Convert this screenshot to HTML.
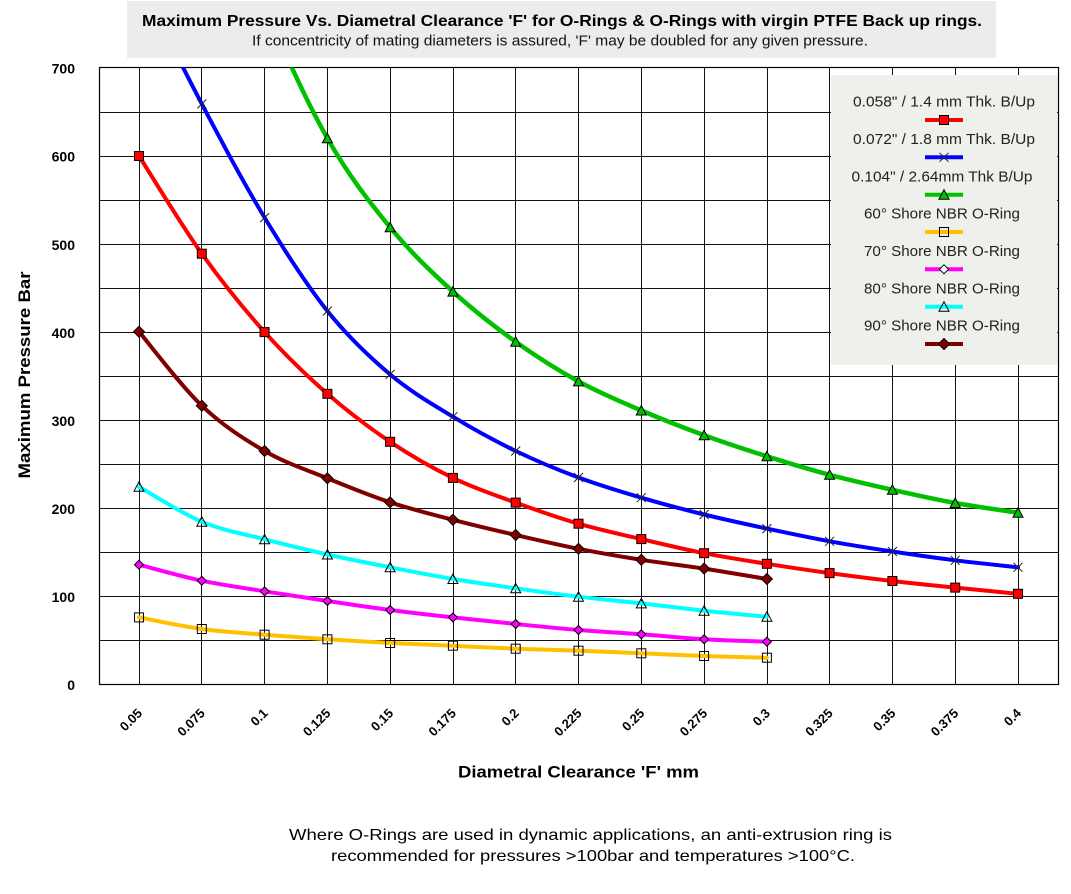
<!DOCTYPE html>
<html>
<head>
<meta charset="utf-8">
<style>
  html,body{margin:0;padding:0;background:#fff;}
  svg{display:block;}
  text{font-family:"Liberation Sans",Arial,sans-serif;}
</style>
</head>
<body>
<svg id="chart" width="1071" height="894" viewBox="0 0 1071 894" xmlns="http://www.w3.org/2000/svg">
  <defs>
    <clipPath id="plotClip"><rect x="99" y="67.5" width="959.5" height="617.5"/></clipPath>
    <marker id="mRed" markerUnits="userSpaceOnUse" markerWidth="14" markerHeight="14" refX="7" refY="7" viewBox="0 0 14 14" overflow="visible">
      <rect x="2.5" y="2.5" width="9" height="9" fill="#ff0000" stroke="#000" stroke-width="1"/>
    </marker>
    <marker id="mBlue" markerUnits="userSpaceOnUse" markerWidth="14" markerHeight="14" refX="7" refY="7" viewBox="0 0 14 14" overflow="visible">
      <path d="M2.5,2.5 L11.5,11.5 M2.5,11.5 L11.5,2.5" stroke="#222" stroke-width="1" fill="none"/>
    </marker>
    <marker id="mGreen" markerUnits="userSpaceOnUse" markerWidth="14" markerHeight="14" refX="7" refY="7" viewBox="0 0 14 14" overflow="visible">
      <polygon points="7,2 12,11.5 2,11.5" fill="#00c000" stroke="#000" stroke-width="1"/>
    </marker>
    <marker id="mOrange" markerUnits="userSpaceOnUse" markerWidth="14" markerHeight="14" refX="7" refY="7" viewBox="0 0 14 14" overflow="visible">
      <rect x="2.5" y="2.5" width="9" height="9" fill="none" stroke="#000" stroke-width="1"/>
    </marker>
    <marker id="mMag" markerUnits="userSpaceOnUse" markerWidth="14" markerHeight="14" refX="7" refY="7" viewBox="0 0 14 14" overflow="visible">
      <polygon points="7,2.5 11.5,7 7,11.5 2.5,7" fill="#ff00ff" stroke="#000" stroke-width="1"/>
    </marker>
    <marker id="mMagL" markerUnits="userSpaceOnUse" markerWidth="14" markerHeight="14" refX="7" refY="7" viewBox="0 0 14 14" overflow="visible">
      <polygon points="7,2.5 11.5,7 7,11.5 2.5,7" fill="#fff" stroke="#000" stroke-width="1"/>
    </marker>
    <marker id="mCyan" markerUnits="userSpaceOnUse" markerWidth="14" markerHeight="14" refX="7" refY="7" viewBox="0 0 14 14" overflow="visible">
      <polygon points="7,2 12,11.5 2,11.5" fill="none" stroke="#000" stroke-width="1"/>
    </marker>
    <marker id="mDark" markerUnits="userSpaceOnUse" markerWidth="14" markerHeight="14" refX="7" refY="7" viewBox="0 0 14 14" overflow="visible">
      <polygon points="7,1.5 12.5,7 7,12.5 1.5,7" fill="#800000" stroke="#000" stroke-width="1"/>
    </marker>
  </defs>

  <!-- Title box -->
  <rect x="127" y="1" width="869" height="57" fill="#ecedeb"/>
  <text x="562" y="26" text-anchor="middle" font-size="16" font-weight="bold" fill="#000" textLength="840" lengthAdjust="spacingAndGlyphs">Maximum Pressure Vs. Diametral Clearance 'F' for O-Rings &amp; O-Rings with virgin PTFE Back up rings.</text>
  <text x="560" y="45.5" text-anchor="middle" font-size="14.5" fill="#111" textLength="616" lengthAdjust="spacingAndGlyphs">If concentricity of mating diameters is assured, 'F' may be doubled for any given pressure.</text>

  <!-- Gridlines -->
  <g stroke="#111" stroke-width="1" fill="none">
    <path d="M99,640.5H1058 M99,596.5H1058 M99,552.5H1058 M99,508.5H1058 M99,464.5H1058 M99,420.5H1058 M99,376.5H1058 M99,332.5H1058 M99,288.5H1058 M99,244.5H1058 M99,200.5H1058 M99,156.5H1058 M99,112.5H1058"/>
    <path d="M139.5,67.5V684.5 M201.5,67.5V684.5 M264.5,67.5V684.5 M327.5,67.5V684.5 M390.5,67.5V684.5 M453.5,67.5V684.5 M515.5,67.5V684.5 M578.5,67.5V684.5 M641.5,67.5V684.5 M704.5,67.5V684.5 M767.5,67.5V684.5 M829.5,67.5V684.5 M892.5,67.5V684.5 M955.5,67.5V684.5 M1018.5,67.5V684.5"/>
  </g>

  <!-- Legend box (covers gridlines) -->
  <rect x="831" y="75" width="226" height="290" fill="#eef0ec"/>

  <!-- Plot border -->
  <rect x="99.5" y="67.5" width="959" height="617" fill="none" stroke="#000" stroke-width="1.2"/>

  <!-- Series -->
  <g clip-path="url(#plotClip)" fill="none" stroke-linejoin="round" stroke-linecap="round">
    <polyline class="s" stroke="#ff0000" stroke-width="4" marker-start="url(#mRed)" marker-mid="url(#mRed)" marker-end="url(#mRed)"
      points="139,156.0 201.8,253.7 264.6,332.1 327.4,393.8 390.1,441.8 452.9,477.9 515.7,502.6 578.5,523.7 641.3,539.1 704.1,553.2 766.9,563.8 829.6,573.1 892.4,581.0 955.2,587.6 1018,593.8"/>
    <polyline class="s" stroke="#0000ff" stroke-width="4" marker-start="url(#mBlue)" marker-mid="url(#mBlue)" marker-end="url(#mBlue)"
      points="139,-20.3 201.8,103.9 264.6,217.6 327.4,311.0 390.1,374.4 452.9,416.7 515.7,451.0 578.5,477.5 641.3,497.7 704.1,514.5 766.9,528.6 829.6,541.3 892.4,551.5 955.2,560.3 1018,567.3"/>
    <polyline class="s" stroke="#00c000" stroke-width="4.5" marker-start="url(#mGreen)" marker-mid="url(#mGreen)" marker-end="url(#mGreen)"
      points="139,-337.5 201.8,-152.5 264.6,6.1 327.4,138.3 390.1,227.3 452.9,291.6 515.7,341.8 578.5,381.4 641.3,410.5 704.1,435.2 766.9,456.3 829.6,474.8 892.4,489.8 955.2,503.0 1018,512.7"/>
    <polyline class="s" stroke="#ffc000" stroke-width="4" marker-start="url(#mOrange)" marker-mid="url(#mOrange)" marker-end="url(#mOrange)"
      points="139,617.4 201.8,629.0 264.6,634.7 327.4,639.3 390.1,643.0 452.9,645.7 515.7,648.7 578.5,650.7 641.3,653.3 704.1,656.0 766.9,657.7"/>
    <polyline class="s" stroke="#ff00ff" stroke-width="4" marker-start="url(#mMag)" marker-mid="url(#mMag)" marker-end="url(#mMag)"
      points="139,564.7 201.8,580.7 264.6,591.3 327.4,601.0 390.1,610.0 452.9,617.4 515.7,624.0 578.5,630.0 641.3,634.3 704.1,639.3 766.9,641.7"/>
    <polyline class="s" stroke="#00ffff" stroke-width="4" marker-start="url(#mCyan)" marker-mid="url(#mCyan)" marker-end="url(#mCyan)"
      points="139,486.7 201.8,521.7 264.6,539.3 327.4,554.5 390.1,567.3 452.9,579.0 515.7,588.3 578.5,596.7 641.3,603.4 704.1,610.7 766.9,616.7"/>
    <polyline class="s" stroke="#800000" stroke-width="4" marker-start="url(#mDark)" marker-mid="url(#mDark)" marker-end="url(#mDark)"
      points="139,331.7 201.8,405.7 264.6,451.0 327.4,478.3 390.1,502.3 452.9,519.8 515.7,535.0 578.5,548.8 641.3,559.8 704.1,568.6 766.9,579.0"/>
  </g>

  <!-- Legend entries -->
  <g font-size="15" fill="#222" text-anchor="middle">
    <text x="944" y="106.7" textLength="182" lengthAdjust="spacingAndGlyphs">0.058" / 1.4 mm Thk. B/Up</text>
    <text x="944" y="144" textLength="182" lengthAdjust="spacingAndGlyphs">0.072" / 1.8 mm Thk. B/Up</text>
    <text x="942" y="181.3" textLength="181" lengthAdjust="spacingAndGlyphs">0.104" / 2.64mm Thk B/Up</text>
    <text x="942" y="218.7" textLength="156" lengthAdjust="spacingAndGlyphs">60° Shore NBR O-Ring</text>
    <text x="942" y="256" textLength="156" lengthAdjust="spacingAndGlyphs">70° Shore NBR O-Ring</text>
    <text x="942" y="293.3" textLength="156" lengthAdjust="spacingAndGlyphs">80° Shore NBR O-Ring</text>
    <text x="942" y="330.7" textLength="156" lengthAdjust="spacingAndGlyphs">90° Shore NBR O-Ring</text>
  </g>
  <g fill="none" stroke-width="4">
    <polyline stroke="#ff0000" points="925,120 944,120 963,120" marker-mid="url(#mRed)"/>
    <polyline stroke="#0000ff" points="925,157.3 944,157.3 963,157.3" marker-mid="url(#mBlue)"/>
    <polyline stroke="#00c000" points="925,194.7 944,194.7 963,194.7" marker-mid="url(#mGreen)"/>
    <polyline stroke="#ffc000" points="925,232 944,232 963,232" marker-mid="url(#mOrange)"/>
    <polyline stroke="#ff00ff" points="925,269.3 944,269.3 963,269.3" marker-mid="url(#mMagL)"/>
    <polyline stroke="#00ffff" points="925,306.7 944,306.7 963,306.7" marker-mid="url(#mCyan)"/>
    <polyline stroke="#800000" points="925,344 944,344 963,344" marker-mid="url(#mDark)"/>
  </g>

  <!-- Y axis labels -->
  <g font-size="14" font-weight="bold" fill="#000" text-anchor="end">
    <text x="75" y="73.5">700</text>
    <text x="75" y="161.7">600</text>
    <text x="75" y="249.8">500</text>
    <text x="75" y="337.9">400</text>
    <text x="75" y="426">300</text>
    <text x="75" y="514.1">200</text>
    <text x="75" y="602.2">100</text>
    <text x="75" y="690">0</text>
  </g>
  <text transform="translate(30,375) rotate(-90)" text-anchor="middle" font-size="17" font-weight="bold" fill="#000" textLength="207" lengthAdjust="spacingAndGlyphs">Maximum Pressure Bar</text>

  <!-- X axis labels -->
  <g font-size="13" font-weight="bold" fill="#000" text-anchor="end">
    <text transform="translate(143,714) rotate(-45)">0.05</text>
    <text transform="translate(205.8,714) rotate(-45)">0.075</text>
    <text transform="translate(268.6,714) rotate(-45)">0.1</text>
    <text transform="translate(331.4,714) rotate(-45)">0.125</text>
    <text transform="translate(394.1,714) rotate(-45)">0.15</text>
    <text transform="translate(456.9,714) rotate(-45)">0.175</text>
    <text transform="translate(519.7,714) rotate(-45)">0.2</text>
    <text transform="translate(582.5,714) rotate(-45)">0.225</text>
    <text transform="translate(645.3,714) rotate(-45)">0.25</text>
    <text transform="translate(708.1,714) rotate(-45)">0.275</text>
    <text transform="translate(770.9,714) rotate(-45)">0.3</text>
    <text transform="translate(833.6,714) rotate(-45)">0.325</text>
    <text transform="translate(896.4,714) rotate(-45)">0.35</text>
    <text transform="translate(959.2,714) rotate(-45)">0.375</text>
    <text transform="translate(1022,714) rotate(-45)">0.4</text>
  </g>
  <text x="578.5" y="777.5" text-anchor="middle" font-size="17" font-weight="bold" fill="#000" textLength="241" lengthAdjust="spacingAndGlyphs">Diametral Clearance 'F' mm</text>

  <!-- Footnote -->
  <text x="289" y="840" font-size="16" fill="#000" textLength="603" lengthAdjust="spacingAndGlyphs">Where O-Rings are used in dynamic applications, an anti-extrusion ring is</text>
  <text x="331" y="861" font-size="16" fill="#000" textLength="524" lengthAdjust="spacingAndGlyphs">recommended for pressures &gt;100bar and temperatures &gt;100°C.</text>
</svg>
<script>
(function(){
  var NS="http://www.w3.org/2000/svg";
  var pls=document.querySelectorAll("polyline.s");
  for(var k=0;k<pls.length;k++){
    var pl=pls[k];
    var raw=pl.getAttribute("points").trim().split(/\s+/);
    var P=raw.map(function(s){var a=s.split(",");return [parseFloat(a[0]),parseFloat(a[1])];});
    var d="M"+P[0][0]+","+P[0][1];
    for(var i=0;i<P.length-1;i++){
      var p0=P[i-1]||P[i], p1=P[i], p2=P[i+1], p3=P[i+2]||P[i+1];
      var c1x=p1[0]+(p2[0]-p0[0])/6, c1y=p1[1]+(p2[1]-p0[1])/6;
      var c2x=p2[0]-(p3[0]-p1[0])/6, c2y=p2[1]-(p3[1]-p1[1])/6;
      d+=" C"+c1x.toFixed(2)+","+c1y.toFixed(2)+" "+c2x.toFixed(2)+","+c2y.toFixed(2)+" "+p2[0]+","+p2[1];
    }
    var path=document.createElementNS(NS,"path");
    for(var j=0;j<pl.attributes.length;j++){
      var at=pl.attributes[j];
      if(at.name!=="points"&&at.name!=="class") path.setAttribute(at.name,at.value);
    }
    path.setAttribute("d",d);
    pl.parentNode.replaceChild(path,pl);
  }
})();
</script>
</body>
</html>
